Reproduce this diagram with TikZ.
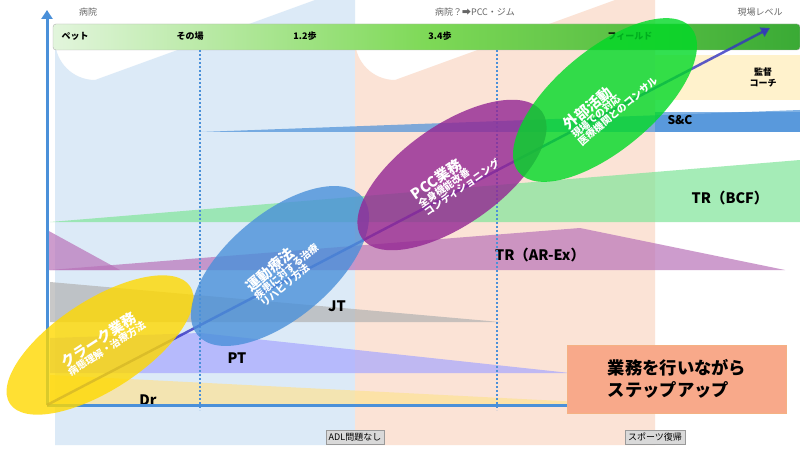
\documentclass[tikz,border=0pt]{standalone}
\usepackage{fontspec}
\setmainfont{Noto Sans CJK JP}
\usetikzlibrary{arrows.meta,shapes.geometric}
\definecolor{bgblue}{HTML}{DCEAF7}
\definecolor{bgpeach}{HTML}{FBE3D6}
\definecolor{axisblue}{HTML}{4A90D9}
\definecolor{barlight}{HTML}{E2F5DC}
\definecolor{barmid}{HTML}{7ED957}
\definecolor{bardark}{HTML}{3AAA35}
\definecolor{coachbg}{HTML}{FFF2CC}
\definecolor{stepbg}{HTML}{F8A98A}
\definecolor{stepline}{HTML}{F4B183}
\tikzset{
  band/.style={opacity=0.7},
  blob/.style={ellipse,opacity=0.8,draw=none},
  bloblabel/.style={text=white,font=\bfseries,align=left},
  barlabel/.style={font=\bfseries\small},
  toplabel/.style={font=\small,text=black!60},
  mark box/.style={draw=black!40,fill=black!15,font=\small,inner sep=3pt},
  band label/.style={font=\bfseries\Large}
}
\begin{document}
\begin{tikzpicture}[x=1pt,y=-1pt]
  \useasboundingbox (0,0) rectangle (800,449);
  \fill[white] (0,0) rectangle (800,449);

  % backgrounds
  \fill[bgblue] (55,445) -- (55,40) arc[start angle=180,end angle=90,radius=40] -- (315,0)
    arc[start angle=90,end angle=0,radius=40] -- (355,445) -- cycle;
  \fill[bgpeach] (355,445) -- (355,40) arc[start angle=180,end angle=90,radius=40] -- (615,0)
    arc[start angle=90,end angle=0,radius=40] -- (655,445) -- cycle;
  \node[toplabel] (hosp) at (88,12) {病院};
  \node[toplabel] (pcc) at (475,12) {病院？➡PCC・ジム};
  \node[toplabel] (field) at (760,12) {現場レベル};

  % bands
  \fill[coachbg] (655,55) rectangle (800,100);
  \node[font=\bfseries\small,align=center] (coach) at (763,77) {監督\\コーチ};
  \fill[axisblue,band] (200,132) -- (800,110) -- (800,132) -- cycle;
  \fill[axisblue,band] (655,112) rectangle (800,132);
  \node[band label,font=\bfseries\large] (sc) at (680,120) {S\&C};
  \fill[green!60!teal!50,band] (50,222) -- (800,160) -- (800,222) -- cycle;
  \node[band label] (bcf) at (730,198) {TR（BCF）};
  \fill[violet!55,band] (47,230) -- (120,270) -- (47,270) -- cycle;
  \fill[violet!55,band] (50,270) -- (580,228) -- (785,270) -- cycle;
  \node[band label] (arex) at (540,255) {TR（AR-Ex）};
  \fill[gray!60,band] (50,282) -- (500,322) -- (50,322) -- cycle;
  \node[band label] (jt) at (337,306) {JT};
  \fill[blue!35,band] (200,333) -- (570,373) -- (50,373) -- (50,338) -- cycle;
  \node[band label] (pt) at (237,358) {PT};
  \fill[yellow!50!orange!40,band] (50,375) -- (640,405) -- (50,405) -- cycle;
  \node[band label] (dr) at (148,400) {Dr};

  % progress bar
  \shade[left color=barlight,right color=bardark,middle color=barmid,draw=black!30,rounded corners=3pt]
    (53,24) rectangle (800,50);
  \node[barlabel] (pet) at (75,36) {ペット};
  \node[barlabel] (spot) at (190,36) {その場};
  \node[barlabel] (step1) at (305,36) {1.2歩};
  \node[barlabel] (step3) at (440,36) {3.4歩};
  \node[barlabel] (fld) at (630,36) {フィールド};

  % dotted guides
  \draw[axisblue,line width=2pt,dotted] (200,50) -- (200,410);
  \draw[axisblue,line width=2pt,dotted] (497,50) -- (497,410);

  % axes
  \coordinate (origin) at (47,405);
  \coordinate (ytop) at (47,10);
  \coordinate (xend) at (785,405);
  \coordinate (goal) at (770,28);
  \draw[axisblue,line width=3pt,-{Triangle[length=9pt,width=11pt]}] (origin) -- (ytop);
  \draw[axisblue,line width=3pt,-{Triangle[length=9pt,width=11pt]}] (origin) -- (xend);
  \draw[blue!70!black!80,line width=2.5pt,opacity=0.8,-{Triangle[length=9pt,width=10pt]}] (origin) -- (goal);

  % ellipses
  \node[blob,fill=orange!30!yellow,minimum width=215pt,minimum height=90pt,rotate=33] (clerk) at (100,345) {};
  \node[bloblabel,rotate=33] (clerkt) at (103,343) {{\Large クラーク業務}\\[-2pt]病態理解・治療方法};
  \node[blob,fill=axisblue,minimum width=215pt,minimum height=105pt,rotate=40] (ex) at (280,266) {};
  \node[bloblabel,rotate=40] (ext) at (285,270) {{\Large 運動療法}\\[-2pt]疾患に対する治療\\[-2pt]リハビリ方法};
  \node[blob,fill=violet!85,minimum width=220pt,minimum height=100pt,rotate=35] (pccb) at (452,175) {};
  \node[bloblabel,rotate=35] (pcct) at (455,178) {{\Large PCC業務}\\[-2pt]全身機能改善\\[-2pt]コンディショニング};
  \node[blob,fill=green!70!teal,minimum width=225pt,minimum height=100pt,rotate=40] (ext2) at (605,100) {};
  \node[bloblabel,rotate=40] (ext2t) at (610,102) {{\Large 外部活動}\\[-2pt]現場での対応\\[-2pt]医療機関とのコンサル};

  % message box
  \node[draw=stepline,fill=stepbg,font=\bfseries\LARGE,align=left,minimum width=219pt,minimum height=68pt,inner sep=4pt]
    (msg) at (677,379) {業務を行いながら\\ステップアップ};

  % milestones
  \node[mark box] (adl) at (355,437) {ADL問題なし};
  \node[mark box] (sport) at (655,437) {スポーツ復帰};
\end{tikzpicture}
\end{document}
